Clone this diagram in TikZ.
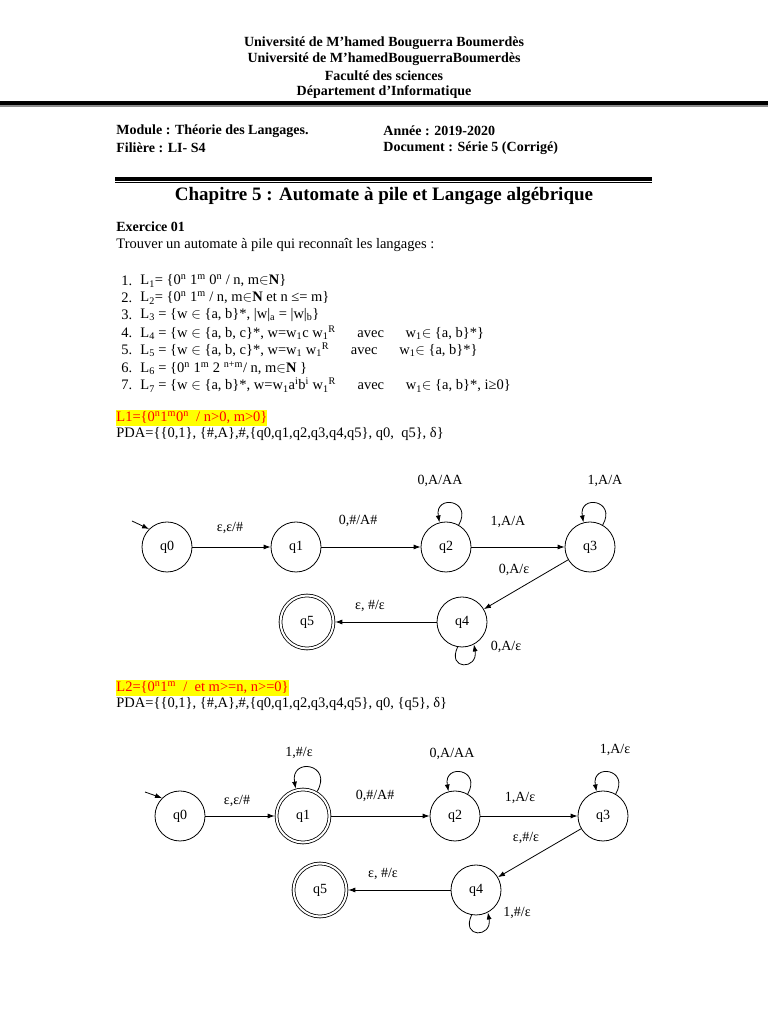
\documentclass[tikz,border=0pt]{standalone}
\usepackage{fontspec}
\setmainfont{Liberation Serif}
\usepackage{xcolor}
\usepackage{tikz}
\usetikzlibrary{arrows.meta}
\definecolor{hlyellow}{RGB}{255,255,0}
\definecolor{hlred}{RGB}{255,0,0}
\definecolor{rulegray}{RGB}{140,140,140}
\tikzset{
  head/.style={font=\bfseries\fontsize{14}{16}\selectfont,inner sep=0pt},
  body/.style={anchor=west,inner sep=0pt,font=\fontsize{14.5}{17}\selectfont},
  bbody/.style={body,font=\bfseries\fontsize{14}{16}\selectfont},
  pstate/.style={draw,circle,minimum size=50pt,inner sep=0pt,font=\fontsize{14}{16}\selectfont},
  pfinal/.style={pstate,double,double distance=2pt,minimum size=53pt,outer sep=1.8pt},
  lbl/.style={inner sep=1pt,font=\fontsize{14}{16}\selectfont},
  toploop/.style={out=60,in=100,looseness=3.8},
  botloop/.style={out=-115,in=-80,looseness=4}
}

\begin{document}
\begin{tikzpicture}[x=1pt,y=1pt,line width=0.8pt,>={Latex[length=7pt,width=5pt]}]
\useasboundingbox (0,0) rectangle (768,1024);
\node[head] (h1) at (384,981) {Université de M’hamed Bouguerra Boumerdès};
\node[head] (h2) at (384,965) {Université de M’hamedBouguerraBoumerdès};
\node[head] (h3) at (384,948) {Faculté des sciences};
\node[head] (h4) at (384,932) {Département d’Informatique};
\draw[line width=4pt] (0,921) -- (768,921);
\draw[rulegray,line width=2pt] (0,918) -- (768,918);
\node[bbody] (module) at (116,893) {Module : Théorie des Langages.};
\node[bbody] (annee) at (383,893) {Année : 2019-2020};
\node[bbody] (filiere) at (116,876) {Filière : LI- S4};
\node[bbody] (docu) at (383,876) {Document : Série 5 (Corrigé)};
\draw[line width=4pt] (115,845) -- (652,845);
\draw[line width=1pt] (115,841.5) -- (652,841.5);
\node[font=\bfseries\fontsize{19}{22}\selectfont,inner sep=0pt] (titre) at (384,828) {Chapitre 5 : Automate à pile et Langage algébrique};

\node[bbody] (exo) at (116,797) {Exercice 01};
\node[body] (consigne) at (116,779) {Trouver un automate à pile qui reconnaît les langages :};
\node[body] (n1) at (121,743) {1.};
\node[body] (i1) at (140,743) {L\textsubscript{1}= \{0\textsuperscript{n} 1\textsuperscript{m} 0\textsuperscript{n} / n, m$\in$\textbf{N}\}};
\node[body] (n2) at (121,726) {2.};
\node[body] (i2) at (140,726) {L\textsubscript{2}= \{0\textsuperscript{n} 1\textsuperscript{m} / n, m$\in$\textbf{N} et n ≤= m\}};
\node[body] (n3) at (121,709) {3.};
\node[body] (i3) at (140,709) {L\textsubscript{3} = \{w $\in$ \{a, b\}*, |w|\textsubscript{a} = |w|\textsubscript{b}\}};
\node[body] (n4) at (121,691) {4.};
\node[body] (i4) at (140,691) {L\textsubscript{4} = \{w $\in$ \{a, b, c\}*, w=w\textsubscript{1}c w\textsubscript{1}\textsuperscript{R}\hspace{1.5em}avec\hspace{1.5em}w\textsubscript{1}$\in$ \{a, b\}*\}};
\node[body] (n5) at (121,674) {5.};
\node[body] (i5) at (140,674) {L\textsubscript{5} = \{w $\in$ \{a, b, c\}*, w=w\textsubscript{1} w\textsubscript{1}\textsuperscript{R}\hspace{1.5em}avec\hspace{1.5em}w\textsubscript{1}$\in$ \{a, b\}*\}};
\node[body] (n6) at (121,656) {6.};
\node[body] (i6) at (140,656) {L\textsubscript{6} = \{0\textsuperscript{n} 1\textsuperscript{m} 2 \textsuperscript{n+m}/ n, m$\in$\textbf{N} \}};
\node[body] (n7) at (121,639) {7.};
\node[body] (i7) at (140,639) {L\textsubscript{7} = \{w $\in$ \{a, b\}*, w=w\textsubscript{1}a\textsuperscript{i}b\textsuperscript{i} w\textsubscript{1}\textsuperscript{R}\hspace{1.5em}avec\hspace{1.5em}w\textsubscript{1}$\in$ \{a, b\}*, i≥0\}};

\node[body,fill=hlyellow,text=hlred,inner ysep=2pt] (lang1) at (116,606) {L1=\{0\textsuperscript{n}1\textsuperscript{m}0\textsuperscript{n}\ \ / n>0, m>0\}};
\node[body] (pda1) at (116,590) {PDA=\{\{0,1\}, \{\#,A\},\#,\{q0,q1,q2,q3,q4,q5\}, q0,\ \ q5\}, δ\}};

\coordinate (s1) at (132,503);
\node[pstate] (a0) at (167,477) {q0};
\node[pstate] (a1) at (296,477) {q1};
\node[pstate] (a2) at (446,477) {q2};
\node[pstate] (a3) at (590,477) {q3};
\node[pstate] (a4) at (462,402) {q4};
\node[pfinal] (a5) at (307,402) {q5};
\draw[->] (s1) -- (a0.135);
\draw[->] (a0) -- (a1);
\draw[->] (a1) -- (a2);
\draw[->] (a2) -- (a3);
\draw[->] (a3) -- (a4);
\draw[->] (a4) -- (a5);
\draw[->] (a2.60) to[toploop] (a2.105);
\draw[->] (a3.60) to[toploop] (a3.105);
\draw[->] (a4.-100) to[botloop] (a4.-62);
\node[lbl] (ea01) at (230,496) {ε,ε/\#};
\node[lbl] (ea12) at (358,503) {0,\#/A\#};
\node[lbl] (ea22) at (440,543) {0,A/AA};
\node[lbl] (ea23) at (508,502) {1,A/A};
\node[lbl] (ea33) at (605,543) {1,A/A};
\node[lbl] (ea34) at (514,454) {0,A/ε};
\node[lbl] (ea45) at (370,418) {ε, \#/ε};
\node[lbl] (ea44) at (506,377) {0,A/ε};

\node[body,fill=hlyellow,text=hlred,inner ysep=2pt] (lang2) at (116,336) {L2=\{0\textsuperscript{n}1\textsuperscript{m}\ \ /\ \ et m>=n, n>=0\}};
\node[body] (pda2) at (116,320) {PDA=\{\{0,1\}, \{\#,A\},\#,\{q0,q1,q2,q3,q4,q5\}, q0, \{q5\}, δ\}};

\coordinate (s2) at (145,232);
\node[pstate] (b0) at (180,208) {q0};
\node[pfinal] (b1) at (303,208) {q1};
\node[pstate] (b2) at (455,208) {q2};
\node[pstate] (b3) at (603,208) {q3};
\node[pstate] (b4) at (476,134) {q4};
\node[pfinal] (b5) at (320,134) {q5};
\draw[->] (s2) -- (b0.135);
\draw[->] (b0) -- (b1);
\draw[->] (b1) -- (b2);
\draw[->] (b2) -- (b3);
\draw[->] (b3) -- (b4);
\draw[->] (b4) -- (b5);
\draw[->] (b1.60) to[toploop] (b1.105);
\draw[->] (b2.60) to[toploop] (b2.105);
\draw[->] (b3.60) to[toploop] (b3.105);
\draw[->] (b4.-100) to[botloop] (b4.-62);
\node[lbl] (eb01) at (237,223) {ε,ε/\#};
\node[lbl] (eb11) at (299,271) {1,\#/ε};
\node[lbl] (eb12) at (375,228) {0,\#/A\#};
\node[lbl] (eb22) at (452,270) {0,A/AA};
\node[lbl] (eb23) at (520,226) {1,A/ε};
\node[lbl] (eb33) at (615,274) {1,A/ε};
\node[lbl] (eb34) at (526,186) {ε,\#/ε};
\node[lbl] (eb45) at (383,150) {ε, \#/ε};
\node[lbl] (eb44) at (517,111) {1,\#/ε};
\end{tikzpicture}
\end{document}
